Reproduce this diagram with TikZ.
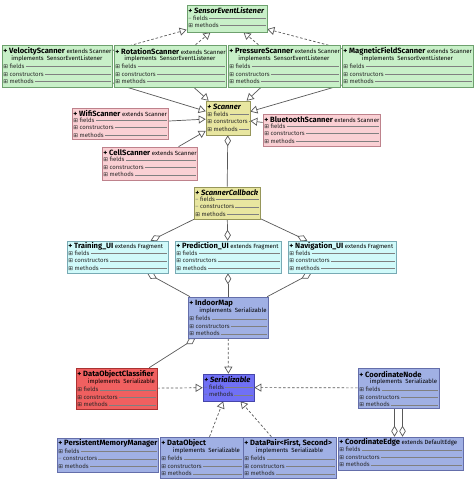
\documentclass[tikz,border=0pt]{standalone}
\usepackage{fontspec}
\setmainfont{Fira Sans}
\setsansfont{Fira Sans}
\newfontfamily\symf{DejaVu Sans}
\usetikzlibrary{arrows.meta,calc,shadows}
\pgfdeclarelayer{back}
\pgfdeclarelayer{links}
\pgfsetlayers{back,links,main}
\definecolor{gfill}{RGB}{200,240,200}\definecolor{gline}{RGB}{110,160,110}
\definecolor{yfill}{RGB}{232,230,160}\definecolor{yline}{RGB}{150,150,90}
\definecolor{pfill}{RGB}{250,208,212}\definecolor{pline}{RGB}{190,130,140}
\definecolor{cfill}{RGB}{208,250,250}\definecolor{cline}{RGB}{120,170,180}
\definecolor{bfill}{RGB}{160,176,228}\definecolor{bline}{RGB}{100,110,170}
\definecolor{rfill}{RGB}{240,96,96}\definecolor{rline}{RGB}{170,50,50}
\definecolor{vfill}{RGB}{112,112,245}\definecolor{vline}{RGB}{70,70,170}
\newcommand\tsz{\fontsize{7.6}{8}\selectfont\bfseries}
\newcommand\ssz{\fontsize{6}{7}\selectfont}
\newcommand\pl{{\symf\fontsize{5.6}{6}\selectfont ⊞}}
\newcommand\mn{{\color{black!55}–}}
\tikzset{
  cls/.style={draw=#1line, fill=#1fill, line width=0.6pt, rectangle, inner sep=0pt,
    general shadow={fill=black!18, shadow xshift=1pt, shadow yshift=-1pt}},
  ttl/.style={inner sep=0pt, anchor=west, font=\ssz, text=black},
  rowt/.style={inner sep=0pt, anchor=west, font=\ssz, text=black!85},
  rowline/.style={draw=black!50, line width=0.4pt, shorten <=1pt, shorten >=1.5pt},
  conn/.style={draw=black!65, line width=0.7pt},
  gen/.style={conn, -{Triangle[length=7pt,width=8pt,fill=white]}},
  real/.style={gen, dash pattern=on 2.5pt off 2pt},
  agg/.style={conn, {Diamond[length=11pt,width=6.5pt,fill=white]}-},
}
% box: name, x, y, w, h, colour key
\newcommand\cbox[6]{\node[cls=#6, minimum width=#4pt, minimum height=#5pt] (#1) at (#2+#4/2,#3+#5/2) {};}
\newcommand\ctit[3]{\node[ttl] (#1-t) at ([xshift=1.5pt,yshift={-(#2)*1pt}]#1.north west) {#3};}
\newcommand\csub[3]{\node[ttl, anchor=center] (#1-i) at ([yshift={-(#2)*1pt}]#1.north) {#3};}
\newcommand\crow[4]{\node[rowt] (#1-#2) at ([xshift=1.5pt,yshift={-(#3)*1pt}]#1.north west) {#4};
  \draw[rowline] (#1-#2.east) -- (#1-#2.east -| #1.east);}
% three standard rows
\newcommand\rowsS[2]{\crow{#1}{f}{#2}{\pl\ fields}
  \crow{#1}{c}{#2+7.5}{\pl\ constructors}
  \crow{#1}{m}{#2+15}{\pl\ methods}}
\newcommand\T[2]{{\tsz + #1}\ #2}
\newcommand\TI[1]{{\tsz\itshape + #1}}
\begin{document}
\begin{tikzpicture}[x=1pt,y=-1pt]
\begin{pgfonlayer}{back}
\fill[white] (0,0) rectangle (474,481);
\end{pgfonlayer}
\useasboundingbox (0,0) rectangle (474,481);
% ---- boxes
\cbox{sel}{187}{5}{80}{27}{g}
\ctit{sel}{6}{\TI{SensorEventListener}}
\crow{sel}{f}{13.5}{\mn\ fields}
\crow{sel}{m}{21}{\pl\ methods}

\cbox{vel}{2}{45}{110}{42}{g}
\ctit{vel}{6.5}{\T{VelocityScanner}{extends Scanner}}
\csub{vel}{14.5}{implements\ \ SensorEventListener}
\rowsS{vel}{22}

\cbox{rot}{114}{45}{112}{42}{g}
\ctit{rot}{6.5}{\T{RotationScanner}{extends Scanner}}
\csub{rot}{14.5}{implements\ \ SensorEventListener}
\rowsS{rot}{22}

\cbox{pre}{228}{45}{112}{42}{g}
\ctit{pre}{6.5}{\T{PressureScanner}{extends Scanner}}
\csub{pre}{14.5}{implements\ \ SensorEventListener}
\rowsS{pre}{22}

\cbox{mag}{342}{45}{131}{42}{g}
\ctit{mag}{6.5}{\T{MagneticFieldScanner}{extends Scanner}}
\csub{mag}{14.5}{implements\ \ SensorEventListener}
\rowsS{mag}{22}

\cbox{scn}{206}{101}{44}{34}{y}
\ctit{scn}{6}{\TI{Scanner}}
\rowsS{scn}{13.5}

\cbox{wifi}{72}{108}{96}{31}{p}
\ctit{wifi}{5.5}{\T{WifiScanner}{extends Scanner}}
\rowsS{wifi}{12.5}

\cbox{blue}{263}{114}{117}{32}{p}
\ctit{blue}{5.5}{\T{BluetoothScanner}{extends Scanner}}
\rowsS{blue}{12.5}

\cbox{cell}{102}{147}{95}{33}{p}
\ctit{cell}{5.5}{\T{CellScanner}{extends Scanner}}
\rowsS{cell}{13}

\cbox{cb}{194}{187}{66}{32}{y}
\ctit{cb}{5.5}{\TI{ScannerCallback}}
\crow{cb}{f}{12.5}{\mn\ fields}
\crow{cb}{c}{20}{\mn\ constructors}
\crow{cb}{m}{27.5}{\pl\ methods}

\cbox{tr}{67}{241}{101}{32}{c}
\ctit{tr}{5.5}{\T{Training\_UI}{extends Fragment}}
\rowsS{tr}{12.5}

\cbox{pr}{175}{241}{106}{32}{c}
\ctit{pr}{5.5}{\T{Prediction\_UI}{extends Fragment}}
\rowsS{pr}{12.5}

\cbox{nav}{288}{241}{108}{32}{c}
\ctit{nav}{5.5}{\T{Navigation\_UI}{extends Fragment}}
\rowsS{nav}{12.5}

\cbox{im}{188}{297}{80}{41}{b}
\ctit{im}{6.5}{\T{IndoorMap}{}}
\csub{im}{14.5}{\hspace*{10pt}implements\ \ Serializable}
\rowsS{im}{22}

\cbox{doc}{76}{368}{81}{41}{r}
\ctit{doc}{6.5}{\T{DataObjectClassifier}{}}
\csub{doc}{14.5}{\hspace*{10pt}implements\ \ Serializable}
\rowsS{doc}{22}

\cbox{ser}{203}{374}{51}{27}{v}
\ctit{ser}{6}{\TI{Serializable}}
\crow{ser}{f}{13.5}{\mn\ fields}
\crow{ser}{m}{21}{\mn\ methods}

\cbox{cn}{358}{368}{81}{40}{b}
\ctit{cn}{6.5}{\T{CoordinateNode}{}}
\csub{cn}{14.5}{\hspace*{10pt}implements\ \ Serializable}
\rowsS{cn}{22}

\cbox{pmm}{57}{438}{101}{34}{b}
\ctit{pmm}{6}{\T{PersistentMemoryManager}{}}
\crow{pmm}{f}{13.5}{\pl\ fields}
\crow{pmm}{c}{21}{\mn\ constructors}
\crow{pmm}{m}{28.5}{\pl\ methods}

\cbox{dob}{160}{437}{83}{41}{b}
\ctit{dob}{6.5}{\T{DataObject}{}}
\csub{dob}{14.5}{\hspace*{10pt}implements\ \ Serializable}
\rowsS{dob}{22}

\cbox{dp}{243}{437}{93}{41}{b}
\ctit{dp}{6.5}{\T{DataPair<First, Second>}{}}
\csub{dp}{14.5}{implements\ \ Serializable}
\rowsS{dp}{22}

\cbox{ce}{338}{437}{125}{33}{b}
\ctit{ce}{6}{\T{CoordinateEdge}{extends DefaultEdge}}
\rowsS{ce}{13}

% ---- connectors
\begin{pgfonlayer}{links}
\draw[real] (vel) -- (sel);
\draw[real] (rot) -- (sel);
\draw[real] (pre) -- (sel);
\draw[real] (mag) -- (sel);
\draw[gen] (vel) -- (scn);
\draw[gen] (rot) -- (scn);
\draw[gen] (pre) -- (scn);
\draw[gen] (mag) -- (scn);
\draw[gen] (wifi) -- (scn);
\draw[gen] (blue) -- (scn);
\draw[gen] (cell) -- (scn);
\draw[agg] (scn) -- (cb);
\draw[agg] (tr) -- (cb);
\draw[agg] (pr) -- (cb);
\draw[agg] (nav) -- (cb);
\draw[agg] (tr) -- (im);
\draw[agg] (pr) -- (im);
\draw[agg] (nav) -- (im);
\draw[real] (im) -- (ser);
\draw[agg] (im) -- (doc);
\draw[real] (doc) -- (ser);
\draw[real] (cn) -- (ser);
\draw[real] (dob) -- (ser);
\draw[real] (dp) -- (ser);
\draw[agg] ([xshift=-4pt]cn.south |- ce.north) -- ([xshift=-4pt]cn.south);
\draw[agg] ([xshift=4pt]cn.south |- ce.north) -- ([xshift=4pt]cn.south);
\end{pgfonlayer}
\end{tikzpicture}
\end{document}
